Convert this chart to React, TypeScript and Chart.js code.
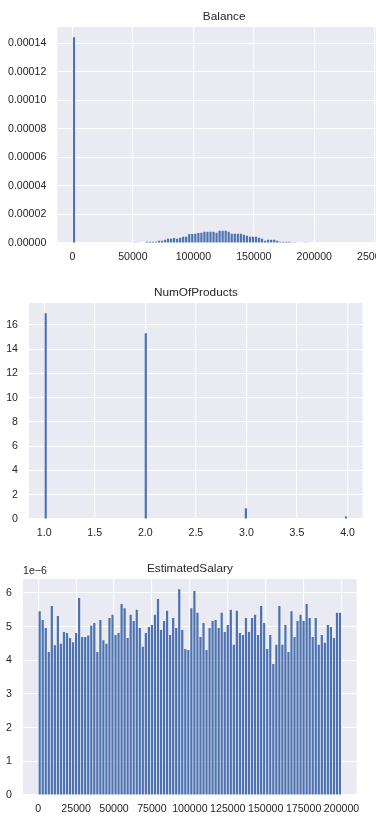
import React, { useEffect, useRef } from 'react';
import { Chart, registerables } from 'chart.js';

Chart.register(...registerables);

const BAR = '#4C72B0';
const BG = '#EAEAF2';
const TEXT = '#262626';
const FONT = '"Liberation Sans", Arial, Helvetica, sans-serif';

// ---------- Balance (density, 100 bins over [0, 250898.09]) ----------
const balanceRange = [0, 250898.09];
// bar heights in units of 1e-6
const balanceDensity = [
  144.2, 0, 0, 0, 0, 0, 0, 0, 0, 0,
  0, 0, 0, 0, 0, 0, 0, 0, 0, 0,
  0.2, 0.2, 0.3, 0.3, 0.9, 0.9, 0.9, 0.9, 1.6, 1.6,
  2.3, 3.0, 3.0, 3.5, 3.0, 3.7, 4.4, 4.4, 6.3, 6.3,
  6.4, 7.0, 7.2, 7.9, 7.9, 7.9, 7.9, 7.2, 8.6, 8.6,
  8.6, 7.9, 6.5, 6.5, 6.5, 6.5, 5.8, 5.1, 4.4, 4.4,
  4.4, 3.7, 3.0, 1.6, 2.3, 2.3, 2.3, 1.6, 0.9, 0.9,
  0.9, 0.9, 0.5, 0.5, 0.4, 0.3, 0.2, 0.1, 0, 0,
  0, 0, 0, 0, 0, 0, 0, 0, 0, 0,
  0, 0, 0, 0, 0, 0, 0, 0, 0, 0,
];
const balanceXTicks = [0, 50000, 100000, 150000, 200000, 250000];
const balanceYTicks = [0, 0.00002, 0.00004, 0.00006, 0.00008, 0.0001, 0.00012, 0.00014];

// ---------- NumOfProducts (density, 100 bins over [1, 4]) ----------
const productRange = [1, 4];
const productValues = [1, 2, 3, 4];
const productDensity = [16.95, 15.3, 0.887, 0.2];
const productXTicks = [1.0, 1.5, 2.0, 2.5, 3.0, 3.5, 4.0];
const productYTicks = [0, 2, 4, 6, 8, 10, 12, 14, 16];

// ---------- EstimatedSalary (density, 100 bins over [11.58, 199992.48]) ----------
const salaryRange = [11.58, 199992.48];
// bar heights in units of 1e-6
const salaryDensity = [
  5.46, 5.2, 4.96, 4.25, 5.61, 4.45, 5.32, 4.49, 4.84, 4.81,
  4.66, 4.54, 4.81, 5.85, 4.69, 4.69, 4.74, 5.03, 5.11, 4.25,
  5.2, 4.6, 4.49, 5.26, 5.35, 4.75, 4.81, 5.67, 5.55, 4.66,
  5.35, 5.17, 5.5, 4.96, 4.4, 4.81, 4.99, 5.05, 5.35, 5.82,
  4.9, 5.17, 5.47, 4.75, 5.26, 4.96, 6.11, 4.9, 4.34, 4.31,
  5.55, 6.06, 5.41, 4.69, 5.11, 4.31, 4.96, 5.17, 5.2, 4.96,
  5.41, 4.84, 5.05, 5.5, 4.46, 5.47, 4.81, 4.75, 5.26, 4.84,
  5.26, 5.35, 4.75, 5.61, 5.11, 4.34, 4.75, 3.89, 4.46, 5.61,
  4.46, 5.05, 4.25, 5.46, 4.69, 5.17, 5.35, 5.17, 5.67, 5.26,
  4.69, 5.26, 4.46, 4.75, 4.52, 5.05, 4.99, 4.66, 5.41, 5.41,
];
const salaryXTicks = [0, 25000, 50000, 75000, 100000, 125000, 150000, 175000, 200000];
const salaryYTicks = [0, 1, 2, 3, 4, 5, 6];

const BIN_COUNT = 100;

function binPoints(range: number[], heights: number[], scale: number) {
  const w = (range[1] - range[0]) / BIN_COUNT;
  return heights.map((h, i) => ({ x: range[0] + (i + 0.5) * w, y: h * scale }));
}

function productPoints() {
  const w = (productRange[1] - productRange[0]) / BIN_COUNT;
  const hs = new Array(BIN_COUNT).fill(0);
  productValues.forEach((v, k) => {
    const idx = Math.min(BIN_COUNT - 1, Math.floor((v - productRange[0]) / w + 1e-9));
    hs[idx] = productDensity[k];
  });
  return hs.map((h, i) => ({ x: productRange[0] + (i + 0.5) * w, y: h }));
}

function margins(range: number[]) {
  const m = (range[1] - range[0]) * 0.05;
  return [range[0] - m, range[1] + m];
}

type Props = {
  top: number;
  canvasW: number;
  canvasH: number;
  left: number;
  chartW: number;
  chartTop: number;
  chartH: number;
  title: string;
  offsetText?: string;
  points: { x: number; y: number }[];
  xLim: number[];
  yMax: number;
  xTicks: number[];
  yTicks: number[];
  fmtX: (v: number) => string;
  fmtY: (v: number) => string;
};

function HistChart(p: Props) {
  const ref = useRef<HTMLCanvasElement | null>(null);
  useEffect(() => {
    const c = ref.current!;
    const bgPlugin = {
      id: 'bg',
      beforeDraw(chart: any) {
        const { ctx, chartArea: a } = chart;
        ctx.save();
        ctx.fillStyle = BG;
        ctx.fillRect(a.left, a.top, a.right - a.left, a.bottom - a.top);
        ctx.restore();
      },
    };
    const titlePlugin = {
      id: 'ttl',
      afterDraw(chart: any) {
        const { ctx, chartArea: a } = chart;
        ctx.save();
        ctx.fillStyle = TEXT;
        ctx.font = `11.8px ${FONT}`;
        ctx.textAlign = 'center';
        ctx.textBaseline = 'middle';
        ctx.fillText(p.title, (a.left + a.right) / 2, a.top - 10.5);
        if (p.offsetText) {
          ctx.font = `10.6px ${FONT}`;
          ctx.textAlign = 'left';
          ctx.fillText(p.offsetText, a.left, a.top - 7.5);
        }
        ctx.restore();
      },
    };
    const tickFont = { family: FONT, size: 10.6 };
    const chart = new Chart(c, {
      type: 'bar',
      data: {
        datasets: [
          {
            data: p.points as any,
            backgroundColor: BAR,
            borderWidth: 0,
            barPercentage: 0.72,
            categoryPercentage: 1,
          },
        ],
      },
      options: {
        animation: false,
        responsive: false,
        maintainAspectRatio: false,
        devicePixelRatio: 1,
        layout: {
          padding: { left: 0, top: p.chartTop, right: p.canvasW - p.left - p.chartW, bottom: 0 },
        },
        plugins: {
          legend: { display: false },
          tooltip: { enabled: false },
          title: { display: false },
        },
        scales: {
          x: {
            type: 'linear',
            min: p.xLim[0],
            max: p.xLim[1],
            offset: false,
            grid: { color: '#ffffff', lineWidth: 1.1, drawTicks: false, offset: false },
            border: { display: false },
            ticks: {
              padding: 8,
              color: TEXT,
              font: tickFont,
              autoSkip: false,
              maxRotation: 0,
              minRotation: 0,
              callback: (v: any) => p.fmtX(Number(v)),
            },
            afterBuildTicks: (s: any) => {
              s.ticks = p.xTicks.map((v) => ({ value: v }));
            },
            afterFit: (s: any) => {
              s.height = p.canvasH - p.chartTop - p.chartH;
              s.paddingLeft = 0;
              s.paddingRight = 0;
            },
          },
          y: {
            type: 'linear',
            min: 0,
            max: p.yMax,
            grid: { color: '#ffffff', lineWidth: 1.1, drawTicks: false },
            border: { display: false },
            ticks: {
              padding: 11,
              color: TEXT,
              font: tickFont,
              autoSkip: false,
              callback: (v: any) => p.fmtY(Number(v)),
            },
            afterBuildTicks: (s: any) => {
              s.ticks = p.yTicks.map((v) => ({ value: v }));
            },
            afterFit: (s: any) => {
              s.width = p.left;
              s.paddingTop = 0;
              s.paddingBottom = 0;
            },
          },
        },
      } as any,
      plugins: [bgPlugin, titlePlugin],
    });
    return () => chart.destroy();
  }, []);
  return (
    <canvas
      ref={ref}
      width={p.canvasW}
      height={p.canvasH}
      style={{ position: 'absolute', left: 0, top: p.top, width: p.canvasW, height: p.canvasH, display: 'block' }}
    />
  );
}

export default function App() {
  const balancePts = binPoints(balanceRange, balanceDensity, 1e-6);
  const productPts = productPoints();
  const salaryPts = binPoints(salaryRange, salaryDensity, 1);
  const balanceMaxVal = Math.max(...balanceDensity) * 1e-6;
  const productMaxVal = Math.max(...productDensity);
  const salaryMaxVal = Math.max(...salaryDensity);
  return (
    <div
      style={{
        position: 'absolute',
        left: 0,
        top: 0,
        width: 376,
        height: 822,
        overflow: 'hidden',
        background: '#ffffff',
      }}
    >
      <HistChart
        top={0}
        canvasW={420}
        canvasH={270}
        left={57.3}
        chartW={333.7}
        chartTop={27}
        chartH={216}
        title="Balance"
        points={balancePts}
        xLim={margins(balanceRange)}
        yMax={balanceMaxVal * 1.05}
        xTicks={balanceXTicks}
        yTicks={balanceYTicks}
        fmtX={(v) => String(v)}
        fmtY={(v) => v.toFixed(5)}
      />
      <HistChart
        top={276}
        canvasW={376}
        canvasH={270}
        left={29}
        chartW={333.7}
        chartTop={27}
        chartH={216}
        title="NumOfProducts"
        points={productPts}
        xLim={margins(productRange)}
        yMax={productMaxVal * 1.05}
        xTicks={productXTicks}
        yTicks={productYTicks}
        fmtX={(v) => v.toFixed(1)}
        fmtY={(v) => String(v)}
      />
      <HistChart
        top={552}
        canvasW={376}
        canvasH={270}
        left={23}
        chartW={333.7}
        chartTop={27}
        chartH={216}
        title="EstimatedSalary"
        offsetText="1e−6"
        points={salaryPts}
        xLim={margins(salaryRange)}
        yMax={salaryMaxVal * 1.05}
        xTicks={salaryXTicks}
        yTicks={salaryYTicks}
        fmtX={(v) => String(v)}
        fmtY={(v) => String(v)}
      />
    </div>
  );
}
